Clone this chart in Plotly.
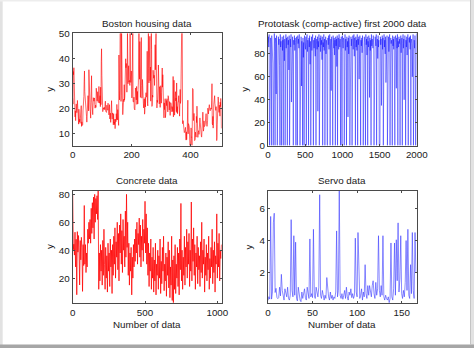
import plotly.graph_objects as go

W, H = 474, 348

# Boston housing: median value (MEDV), all 506 records
boston_medv = [
    24.0, 21.6, 34.7, 33.4, 36.2, 28.7, 22.9, 27.1, 16.5, 18.9,
    15.0, 18.9, 21.7, 20.4, 18.2, 19.9, 23.1, 17.5, 20.2, 18.2,
    13.6, 19.6, 15.2, 14.5, 15.6, 13.9, 16.6, 14.8, 18.4, 21.0,
    12.7, 14.5, 13.2, 13.1, 13.5, 18.9, 20.0, 21.0, 24.7, 30.8,
    34.9, 26.6, 25.3, 24.7, 21.2, 19.3, 20.0, 16.6, 14.4, 19.4,
    19.7, 20.5, 25.0, 23.4, 18.9, 35.4, 24.7, 31.6, 23.3, 19.6,
    18.7, 16.0, 22.2, 25.0, 33.0, 23.5, 19.4, 22.0, 17.4, 20.9,
    24.2, 21.7, 22.8, 23.4, 24.1, 21.4, 20.0, 20.8, 21.2, 20.3,
    28.0, 23.9, 24.8, 22.9, 23.9, 26.6, 22.5, 22.2, 23.6, 28.7,
    22.6, 22.0, 22.9, 25.0, 20.6, 28.4, 21.4, 38.7, 43.8, 33.2,
    27.5, 26.5, 18.6, 19.3, 20.1, 19.5, 19.5, 20.4, 19.8, 19.4,
    21.7, 22.8, 18.8, 18.7, 18.5, 18.3, 21.2, 19.2, 20.4, 19.3,
    22.0, 20.3, 20.5, 17.3, 18.8, 21.4, 15.7, 16.2, 18.0, 14.3,
    19.2, 19.6, 23.0, 18.4, 15.6, 18.1, 17.4, 17.1, 13.3, 17.8,
    14.0, 14.4, 13.4, 15.6, 11.8, 13.8, 15.6, 14.6, 17.8, 15.4,
    21.5, 19.6, 15.3, 19.4, 17.0, 15.6, 13.1, 41.3, 24.3, 23.3,
    27.0, 50.0, 50.0, 50.0, 22.7, 25.0, 50.0, 23.8, 23.8, 22.3,
    17.4, 19.1, 23.1, 23.6, 22.6, 29.4, 23.2, 24.6, 29.9, 37.2,
    39.8, 36.2, 37.9, 32.5, 26.4, 29.6, 50.0, 32.0, 29.8, 34.9,
    37.0, 30.5, 36.4, 31.1, 29.1, 50.0, 33.3, 30.3, 34.6, 34.9,
    32.9, 24.1, 42.3, 48.5, 50.0, 22.6, 24.4, 22.5, 24.4, 20.0,
    21.7, 19.3, 22.4, 28.1, 23.7, 25.0, 23.3, 28.7, 21.5, 23.0,
    26.7, 21.7, 27.5, 30.1, 44.8, 50.0, 37.6, 31.6, 46.7, 31.5,
    24.3, 31.7, 41.7, 48.3, 29.0, 24.0, 25.1, 31.5, 23.7, 23.3,
    22.0, 20.1, 22.2, 23.7, 17.6, 18.5, 24.3, 20.5, 24.5, 26.2,
    24.4, 24.8, 29.6, 42.8, 21.9, 20.9, 44.0, 50.0, 36.0, 30.1,
    33.8, 43.1, 48.8, 31.0, 36.5, 22.8, 30.7, 50.0, 43.5, 20.7,
    21.1, 25.2, 24.4, 35.2, 32.4, 32.0, 33.2, 33.1, 29.1, 35.1,
    45.4, 35.4, 46.0, 50.0, 32.2, 22.0, 20.1, 23.2, 22.3, 24.8,
    28.5, 37.3, 27.9, 23.9, 21.7, 28.6, 27.1, 20.3, 22.5, 29.0,
    24.8, 22.0, 26.4, 33.1, 36.1, 28.4, 33.4, 28.2, 22.8, 20.3,
    16.1, 22.1, 19.4, 21.6, 23.8, 16.2, 17.8, 19.8, 23.1, 21.0,
    23.8, 23.1, 20.4, 18.5, 25.0, 24.6, 23.0, 22.2, 19.3, 22.6,
    19.8, 17.1, 19.4, 22.2, 20.7, 21.1, 19.5, 18.5, 20.6, 19.0,
    18.7, 32.7, 16.5, 23.9, 31.2, 17.5, 17.2, 23.1, 24.5, 26.6,
    22.9, 24.1, 18.6, 30.1, 18.2, 20.6, 17.8, 21.7, 22.7, 22.6,
    25.0, 19.9, 20.8, 16.8, 21.9, 27.5, 21.9, 23.1, 50.0, 50.0,
    50.0, 50.0, 50.0, 13.8, 13.8, 15.0, 13.9, 13.3, 13.1, 10.2,
    10.4, 10.9, 11.3, 12.3, 8.8, 7.2, 10.5, 7.4, 10.2, 11.5,
    15.1, 23.2, 9.7, 13.8, 12.7, 13.1, 12.5, 8.5, 5.0, 6.3,
    5.6, 7.2, 12.1, 8.3, 8.5, 5.0, 11.9, 27.9, 17.2, 27.5,
    15.0, 17.2, 17.9, 16.3, 7.0, 7.2, 7.5, 10.4, 8.8, 8.4,
    16.7, 14.2, 20.8, 13.4, 11.7, 8.3, 10.2, 10.9, 11.0, 9.5,
    14.5, 14.1, 16.1, 14.3, 11.7, 13.4, 9.6, 8.7, 8.4, 12.8,
    10.5, 17.1, 18.4, 15.4, 10.8, 11.8, 14.9, 12.6, 14.1, 13.0,
    13.4, 15.2, 16.1, 17.8, 14.9, 14.1, 12.7, 13.5, 14.9, 20.0,
    16.4, 17.7, 19.5, 20.2, 21.4, 19.9, 19.0, 19.1, 19.1, 20.1,
    19.9, 19.6, 23.2, 29.8, 13.8, 13.3, 16.7, 12.0, 14.6, 21.4,
    23.0, 23.7, 25.0, 21.8, 20.6, 21.2, 19.1, 20.6, 15.2, 7.0,
    8.1, 13.6, 20.1, 21.8, 24.5, 23.1, 19.7, 18.3, 21.2, 17.5,
    16.8, 22.4, 20.6, 23.9, 22.0, 11.9,
]

# Prototask comp-active: first 2000 records, every 5th record
prototask_step = 5
prototask_total = 2000
prototask_usr = [
    90, 95, 86, 97, 0, 92, 80, 94, 88, 0, 96, 84, 91, 72, 0, 93, 87, 98, 82, 0,
    94, 89, 45, 96, 85, 0, 92, 78, 95, 88, 93, 70, 0, 97, 86, 91, 0, 89, 95, 83,
    92, 0, 96, 87, 74, 93, 0, 90, 97, 85, 94, 81, 0, 95, 88, 92, 66, 96, 0, 89,
    93, 86, 97, 38, 91, 84, 95, 79, 0, 92, 88, 96, 83, 94, 90, 0, 87, 95, 73, 0,
    96, 89, 93, 85, 97, 80, 0, 92, 88, 95, 52, 91, 86, 0, 94, 77, 90, 0, 96, 87,
    93, 84, 95, 0, 90, 97, 82, 92, 88, 0, 94, 86, 96, 71, 91, 0, 89, 95, 83, 93,
    97, 87, 0, 92, 85, 94, 90, 78, 96, 0, 88, 93, 84, 95, 30, 91, 86, 97, 0, 89,
    94, 82, 96, 88, 92, 75, 95, 0, 90, 86, 97, 83, 93, 0, 89, 95, 80, 92, 87, 0,
    0, 94, 88, 96, 84, 91, 97, 0, 86, 93, 48, 95, 89, 82, 0, 96, 90, 85, 94, 79,
    92, 0, 95, 87, 93, 69, 96, 0, 89, 94, 84, 97, 91, 86, 93, 0, 88, 95, 81, 0,
    96, 90, 85, 94, 92, 0, 87, 97, 83, 93, 89, 0, 95, 86, 91, 25, 94, 80, 96, 88,
    0, 92, 0, 95, 87, 93, 0, 90, 96, 84, 91, 97, 78, 94, 89, 0, 95, 86, 92, 83,
    97, 0, 93, 88, 95, 58, 90, 96, 85, 0, 92, 87, 94, 81, 96, 89, 0, 93, 86, 95,
    90, 84, 0, 97, 88, 93, 79, 95, 0, 91, 86, 96, 89, 42, 94, 83, 92, 0, 97, 87,
    93, 90, 85, 96, 88, 0, 94, 82, 95, 91, 87, 97, 0, 89, 93, 76, 96, 86, 92, 0,
    0, 0, 95, 88, 93, 35, 90, 96, 84, 94, 0, 89, 97, 86, 92, 80, 95, 55, 91, 87,
    96, 0, 93, 88, 95, 82, 91, 97, 0, 86, 94, 89, 92, 73, 0, 96, 87, 93, 84, 95,
    0, 0, 90, 96, 88, 50, 94, 85, 97, 0, 91, 86, 95, 89, 93, 0, 87, 96, 81, 92,
    94, 0, 89, 97, 85, 93, 40, 90, 96, 88, 0, 92, 86, 95, 79, 91, 97, 0, 87, 94,
    90, 95, 84, 96, 0, 89, 93, 87, 60, 94, 97, 0, 88, 92, 85, 96, 90, 0, 93, 98,
]

# Concrete compressive strength: 1030 records, every 4th record
concrete_step = 4
concrete_total = 1030
concrete_strength = [
    79.99, 40.3, 44.3, 36.5, 52.9, 28.0, 47.8, 8.1, 53.3, 38.6,
    50.5, 39.0, 15.1, 46.9, 33.1, 49.2, 41.8, 10.5, 44.0, 29.0,
    72.0, 30.0, 44.0, 24.0, 38.0, 28.0, 55.0, 45.0, 60.0, 48.0,
    62.0, 45.0, 70.0, 52.0, 74.0, 56.0, 78.0, 48.0, 80.0, 60.0,
    77.0, 66.0, 79.0, 62.0, 82.6, 12.0, 38.0, 18.0, 44.0, 25.0,
    40.0, 15.0, 47.0, 22.0, 55.0, 30.0, 12.0, 42.0, 20.0, 36.0,
    10.0, 45.0, 25.0, 38.0, 14.0, 48.0, 28.0, 40.0, 9.0, 44.0,
    22.0, 50.0, 30.0, 56.0, 20.0, 46.0, 35.0, 60.0, 26.0, 52.0,
    18.0, 58.0, 38.0, 66.0, 30.0, 54.0, 24.0, 62.0, 40.0, 50.0,
    28.0, 68.0, 35.0, 80.0, 42.0, 60.0, 22.0, 45.0, 15.0, 38.0,
    25.0, 42.0, 8.0, 35.0, 20.0, 44.0, 28.0, 48.0, 32.0, 55.0,
    38.0, 60.0, 30.0, 52.0, 44.0, 63.0, 35.0, 58.0, 28.0, 50.0,
    40.0, 62.0, 32.0, 55.0, 45.0, 75.0, 38.0, 66.0, 30.0, 56.0,
    22.0, 45.0, 14.0, 38.0, 25.0, 48.0, 12.0, 35.0, 20.0, 42.0,
    10.0, 33.0, 18.0, 45.0, 8.0, 30.0, 22.0, 40.0, 12.0, 36.0,
    20.0, 48.0, 9.0, 32.0, 16.0, 42.0, 25.0, 50.0, 11.0, 30.0,
    18.0, 38.0, 7.0, 35.0, 22.0, 46.0, 13.0, 40.0, 6.0, 28.0,
    15.0, 50.0, 4.0, 33.0, 2.33, 36.0, 12.0, 44.0, 9.0, 30.0,
    20.0, 42.0, 14.0, 38.0, 8.0, 48.0, 26.0, 73.5, 18.0, 40.0,
    12.0, 35.0, 22.0, 50.0, 15.0, 42.0, 28.0, 55.0, 20.0, 46.0,
    30.0, 52.0, 14.0, 40.0, 25.0, 74.5, 18.0, 48.0, 32.0, 56.0,
    22.0, 44.0, 12.0, 38.0, 28.0, 50.0, 16.0, 42.0, 26.0, 36.0,
    14.0, 46.0, 24.0, 60.0, 20.0, 40.0, 30.0, 48.0, 10.0, 35.0,
    22.0, 44.0, 18.0, 38.0, 26.0, 50.0, 12.0, 34.0, 20.0, 42.0,
    28.0, 55.0, 16.0, 40.0, 24.0, 46.0, 10.0, 36.0, 30.0, 66.0,
    20.0, 45.0, 28.0, 52.0, 18.0, 40.0, 34.0, 44.0,
]

# Servo: class value, all 167 records
servo_class = [
    0.28, 0.51, 0.36, 5.50, 0.36, 0.81, 5.10, 5.70, 0.77, 1.03,
    0.47, 0.39, 0.45, 1.10, 0.56, 1.90, 0.90, 0.60, 0.30, 1.00,
    0.70, 0.50, 1.10, 0.40, 0.30, 0.60, 5.30, 0.90, 0.50, 4.30,
    0.60, 3.90, 0.40, 0.25, 1.10, 0.50, 0.30, 0.20, 0.80, 0.40,
    0.90, 1.00, 0.45, 0.30, 1.10, 0.60, 0.40, 4.10, 0.50, 0.70,
    0.45, 4.70, 0.60, 0.40, 1.10, 0.80, 0.50, 1.10, 6.85, 0.60,
    0.40, 0.90, 0.50, 0.30, 0.60, 0.40, 1.70, 0.70, 0.50, 0.30,
    0.80, 0.40, 0.60, 0.30, 0.50, 0.40, 0.80, 4.60, 0.50, 0.90,
    7.10, 0.60, 0.40, 0.70, 0.35, 0.60, 0.90, 0.40, 1.10, 0.50,
    0.30, 0.80, 0.60, 1.00, 0.45, 0.70, 0.40, 0.60, 4.15, 0.80,
    0.50, 4.50, 1.50, 0.40, 0.60, 1.00, 0.30, 0.80, 0.50, 2.50,
    0.70, 0.40, 1.20, 0.60, 1.20, 0.90, 0.50, 1.20, 1.50, 0.70,
    0.40, 1.40, 0.60, 1.00, 4.30, 0.90, 0.50, 1.20, 0.60, 4.30,
    0.50, 0.30, 0.60, 0.40, 0.30, 0.50, 0.13, 0.40, 3.85, 0.50,
    0.30, 1.00, 3.85, 0.60, 4.05, 1.50, 5.10, 0.80, 1.60, 4.30,
    0.70, 0.40, 0.90, 0.50, 1.40, 4.00, 0.90, 4.70, 0.60, 0.40,
    2.50, 0.70, 4.50, 0.90, 0.40, 4.50, 2.00,
]

FONT = "Liberation Sans, Arial, Helvetica, sans-serif"
TEXT = "#1a1a1a"
AXIS = "#4a4a4a"


def fx(p):
    return p / W


def fy(p):
    return 1 - p / H


LEFT_COL = (72.7, 221.7)
RIGHT_COL = (268.0, 416.8)
TOP_ROW = (33.3, 145.6)
BOTTOM_ROW = (190.7, 302.8)

boston_x = list(range(len(boston_medv)))
proto_x = [k * prototask_step for k in range(len(prototask_usr))]
concrete_x = [k * concrete_step for k in range(len(concrete_strength))]
servo_x = list(range(len(servo_class)))

fig = go.Figure()
fig.add_trace(go.Scatter(x=boston_x, y=boston_medv, mode="lines",
                         line=dict(color="#ff0000", width=0.6),
                         xaxis="x", yaxis="y"))
fig.add_trace(go.Scatter(x=proto_x, y=prototask_usr, mode="lines",
                         line=dict(color="#0000ff", width=0.45),
                         xaxis="x2", yaxis="y2"))
fig.add_trace(go.Scatter(x=concrete_x, y=concrete_strength, mode="lines",
                         line=dict(color="#ff0000", width=0.75),
                         xaxis="x3", yaxis="y3"))
fig.add_trace(go.Scatter(x=servo_x, y=servo_class, mode="lines",
                         line=dict(color="#3a3aff", width=0.6),
                         xaxis="x4", yaxis="y4"))


def axis_style(**kw):
    base = dict(
        showline=True, linecolor=AXIS, linewidth=1, mirror="ticks",
        ticks="inside", ticklen=2, tickcolor=AXIS, tickwidth=1,
        showgrid=False, zeroline=False, automargin=False,
        tickfont=dict(family=FONT, size=9.8, color=TEXT),
        fixedrange=True,
    )
    base.update(kw)
    return base


def xdom(col):
    return [fx(col[0]), fx(col[1])]


def ydom(row):
    return [fy(row[1]), fy(row[0])]


fig.update_layout(
    width=W, height=H,
    margin=dict(l=0, r=0, t=0, b=0),
    paper_bgcolor="white", plot_bgcolor="white",
    showlegend=False,
    template="none",
    xaxis=axis_style(domain=xdom(LEFT_COL), anchor="y",
                     range=[0, len(boston_medv)], tickvals=[0, 200, 400]),
    yaxis=axis_style(domain=ydom(TOP_ROW), anchor="x",
                     range=[min(boston_medv), max(boston_medv)],
                     tickvals=[10, 20, 30, 40, 50]),
    xaxis2=axis_style(domain=xdom(RIGHT_COL), anchor="y2",
                      range=[0, prototask_total],
                      tickvals=[0, 500, 1000, 1500, 2000]),
    yaxis2=axis_style(domain=ydom(TOP_ROW), anchor="x2",
                      range=[min(prototask_usr), max(prototask_usr)],
                      tickvals=[0, 20, 40, 60, 80]),
    xaxis3=axis_style(domain=xdom(LEFT_COL), anchor="y3",
                      range=[0, concrete_total], tickvals=[0, 500, 1000]),
    yaxis3=axis_style(domain=ydom(BOTTOM_ROW), anchor="x3",
                      range=[min(concrete_strength), max(concrete_strength)],
                      tickvals=[20, 40, 60, 80]),
    xaxis4=axis_style(domain=xdom(RIGHT_COL), anchor="y4",
                      range=[0, len(servo_class)], tickvals=[0, 50, 100, 150]),
    yaxis4=axis_style(domain=ydom(BOTTOM_ROW), anchor="x4",
                      range=[min(servo_class), max(servo_class)],
                      tickvals=[2, 4, 6]),
)


def label(text, x, y, angle=0):
    fig.add_annotation(text=text, x=fx(x), y=fy(y), xref="paper", yref="paper",
                       showarrow=False, xanchor="center", yanchor="middle",
                       textangle=angle,
                       font=dict(family=FONT, size=9.8, color=TEXT))


mid_l = sum(LEFT_COL) / 2
mid_r = sum(RIGHT_COL) / 2
label("Boston housing data", mid_l, 23.3)
label("Prototask (comp-active) first 2000 data", mid_r, 23.3)
label("Concrete data", mid_l, 180.0)
label("Servo data", mid_r, 180.0)
label("Number of data", mid_l, 324.3)
label("Number of data", mid_r, 324.3)
label("y", 49.3, sum(TOP_ROW) / 2, -90)
label("y", 244.3, sum(TOP_ROW) / 2, -90)
label("y", 49.3, sum(BOTTOM_ROW) / 2, -90)
label("y", 248.7, sum(BOTTOM_ROW) / 2, -90)

# window frame around the figure
frame = [
    (0, 0, 2.7, H, "#e2e2e2"),
    (0, 0, W, 1.5, "#ededed"),
    (470.0, 0, W, H, "#e2e2e2"),
    (0, 344.6, W, H, "#a6a6a6"),
]
for x0, y0, x1, y1, c in frame:
    fig.add_shape(type="rect", xref="paper", yref="paper",
                  x0=fx(x0), x1=fx(x1), y0=fy(y1), y1=fy(y0),
                  fillcolor=c, line=dict(width=0), layer="above")
fig.add_shape(type="line", xref="paper", yref="paper",
              x0=fx(470.5), x1=fx(470.5), y0=fy(344.6), y1=fy(0),
              line=dict(color="#c4c4c4", width=1))

fig.write_html("out.html", config={"displayModeBar": False})
